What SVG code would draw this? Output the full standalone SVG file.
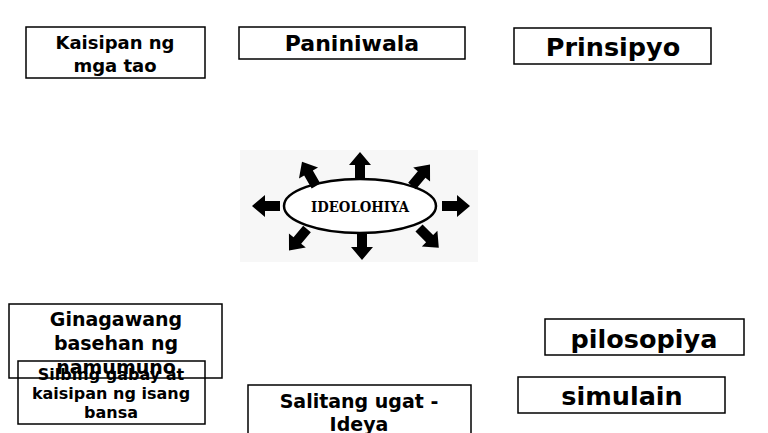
<svg xmlns="http://www.w3.org/2000/svg" width="768" height="433" viewBox="0 0 768 433">
<defs>
<style>
.b{fill:none;stroke:#000;stroke-width:1.5}
.t{font-family:"DejaVu Sans",sans-serif;font-weight:bold;text-anchor:middle;fill:#000}
</style>
<path id="ar" d="M-5,0 L-5,-15 L-11,-15 L0,-28 L11,-15 L5,-15 L5,0 Z" fill="#000"/>
</defs>
<rect width="768" height="433" fill="#fff"/>
<g id="n1"><rect class="b" x="26" y="27" width="179" height="51"/><text class="t" font-size="18" x="115" y="49">Kaisipan ng</text><text class="t" font-size="18" x="115" y="72">mga tao</text></g>
<g id="n2"><rect class="b" x="239" y="27" width="226" height="32"/><text class="t" font-size="22" x="352" y="51">Paniniwala</text></g>
<g id="n3"><rect class="b" x="514" y="28" width="197" height="36"/><text class="t" font-size="25.5" x="613" y="56">Prinsipyo</text></g>
<g id="center">
<rect x="240" y="150" width="238" height="112" fill="#f7f7f7"/>
<ellipse cx="360" cy="206" rx="76" ry="27" fill="#fff" stroke="#000" stroke-width="2.5"/>
<text x="360" y="212" font-family="'DejaVu Serif',serif" font-weight="bold" font-size="14" text-anchor="middle" textLength="98" lengthAdjust="spacingAndGlyphs">IDEOLOHIYA</text>
<g>
<use href="#ar" transform="translate(360,180)"/>
<use href="#ar" transform="translate(362,232) rotate(180)"/>
<use href="#ar" transform="translate(280,206) rotate(-90)"/>
<use href="#ar" transform="translate(442,206) rotate(90)"/>
<use href="#ar" transform="translate(316,186) rotate(-30)"/>
<use href="#ar" transform="translate(412,186) rotate(40)"/>
<use href="#ar" transform="translate(307,229) rotate(-140)"/>
<use href="#ar" transform="translate(419,228) rotate(135)"/>
</g>
</g>
<g id="n4"><rect class="b" x="9" y="304" width="213" height="74"/><text class="t" font-size="19" x="116" y="326">Ginagawang</text><text class="t" font-size="19" x="116" y="350">basehan ng</text><text class="t" font-size="19" x="116" y="374">namumuno</text></g>
<g id="n5"><rect class="b" x="18" y="361" width="187" height="63"/><text class="t" font-size="16" x="111" y="380">Silbing gabay at</text><text class="t" font-size="16" x="111" y="399">kaisipan ng isang</text><text class="t" font-size="16" x="111" y="418">bansa</text></g>
<g id="n6"><rect class="b" x="248" y="385" width="223" height="52"/><text class="t" font-size="19" x="359" y="408">Salitang ugat -</text><text class="t" font-size="19" x="359" y="431">Ideya</text></g>
<g id="n7"><rect class="b" x="545" y="319" width="199" height="36"/><text class="t" font-size="25.5" x="644" y="348">pilosopiya</text></g>
<g id="n8"><rect class="b" x="518" y="377" width="207" height="36"/><text class="t" font-size="25.5" x="622" y="405">simulain</text></g>
<g id="connectors"/>
</svg>
